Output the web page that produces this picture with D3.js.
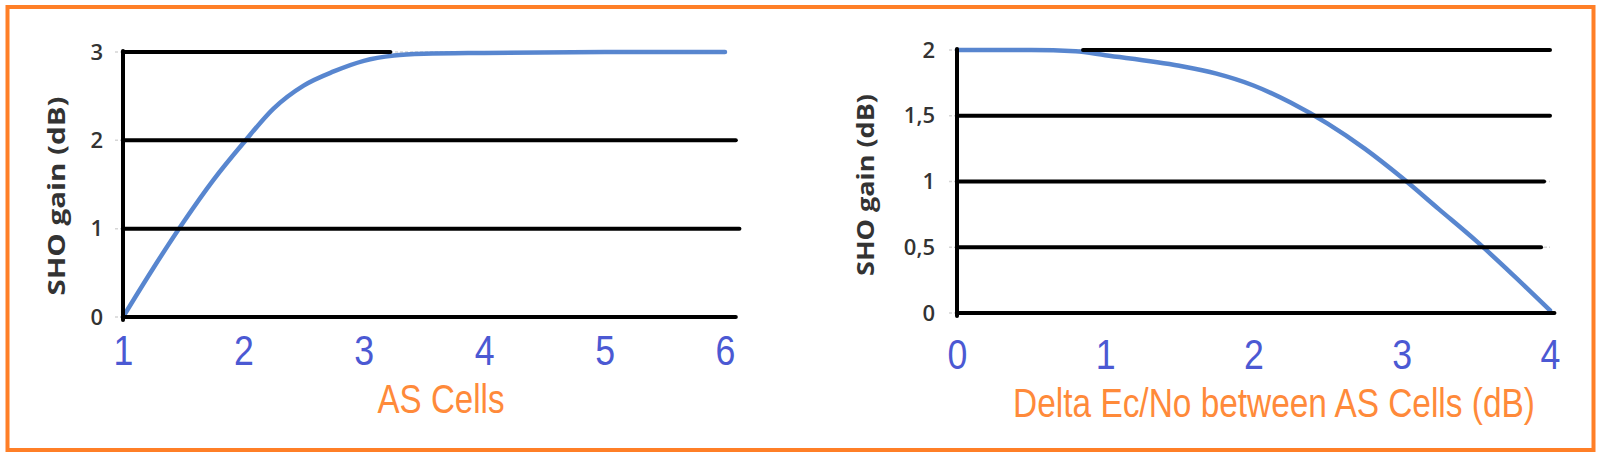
<!DOCTYPE html>
<html>
<head>
<meta charset="utf-8">
<script src="https://cdn.jsdelivr.net/npm/d3@7"></script>
<style>
  html, body { margin: 0; padding: 0; background: #fff; }
  svg { display: block; }
</style>
</head>
<body>
<svg id="chart" width="1600" height="455"></svg>
<script>
// left panel: SHO gain vs number of AS cells
const asCells = [1, 1.25, 1.5, 1.75, 2, 2.25, 2.5, 2.75, 3, 3.25, 3.5, 4, 5, 6];
const asGain = [0, 0.55, 1.07, 1.55, 1.97, 2.36, 2.62, 2.78, 2.9, 2.96, 2.98, 2.99, 3.0, 3.0];
const asTicksX = [1, 2, 3, 4, 5, 6];
const asTicksY = [0, 1, 2, 3];
// hand drawn guide lines (value, from, to) in data units
const asGuides = [[3, 1, 3.22], [2, 1, 6.09], [1, 1, 6.12], [0, 1, 6.09]];

// right panel: SHO gain vs delta Ec/No
const deltaEcNo = [0, 0.5, 0.8, 1, 1.5, 1.75, 2, 2.25, 2.5, 2.75, 3, 3.25, 3.5, 3.75, 4];
const deltaGain = [2.0, 2.0, 1.99, 1.96, 1.88, 1.82, 1.73, 1.6, 1.44, 1.25, 1.03, 0.79, 0.55, 0.29, 0.02];
const deltaTicksX = [0, 1, 2, 3, 4];
const deltaTicksY = [0, 0.5, 1, 1.5, 2];
const deltaGuides = [[2, 0.85, 4.0], [1.5, 0, 4.0], [1, 0, 3.96], [0.5, 0, 3.94], [0, 0, 4.03]];

const svg = d3.select("#chart");
const blue = "#4f7fcc";
const tickBlue = "#4b59d3";
const orange = "#ff8a3a";

// squeeze / stretch a text horizontally so it spans the wanted width
function fitWidth(sel, width) {
  const w = sel.node().getComputedTextLength();
  const tr = sel.attr("transform") || "";
  sel.attr("transform", `${tr} scale(${width / w},1)`);
}

svg.append("rect")
  .attr("x", 7.5).attr("y", 7)
  .attr("width", 1586).attr("height", 443)
  .attr("fill", "none")
  .attr("stroke", "#ff7f27")
  .attr("stroke-width", 4);

const panels = [
  {
    xs: asCells, ys: asGain, ticksX: asTicksX, ticksY: asTicksY, guides: asGuides,
    x: d3.scaleLinear([1, 6], [123, 725]),
    y: d3.scaleLinear([0, 3], [317, 52]),
    yLabelX: 103, titleX: 57, titleY: 196, titleLen: 199,
    xTitle: "AS Cells", xTitleX: 441, xTitleLen: 127, xTitleY: 413, xTickY: 365
  },
  {
    xs: deltaEcNo, ys: deltaGain, ticksX: deltaTicksX, ticksY: deltaTicksY, guides: deltaGuides,
    x: d3.scaleLinear([0, 4], [957, 1550]),
    y: d3.scaleLinear([0, 2], [313, 50]),
    yLabelX: 935, titleX: 866, titleY: 185, titleLen: 182,
    xTitle: "Delta Ec/No between AS Cells (dB)", xTitleX: 1274, xTitleLen: 522, xTitleY: 417, xTickY: 369
  }
];

panels.forEach((p) => {
  const g = svg.append("g");
  const [x0, x1] = p.x.range();

  // faint original gridlines under the drawn ones
  g.selectAll(".grid")
    .data(p.ticksY)
    .join("line")
    .attr("x1", x0 - 8).attr("x2", x1)
    .attr("y1", (d) => p.y(d)).attr("y2", (d) => p.y(d))
    .attr("stroke", "#bbb")
    .attr("stroke-width", 1.5)
    .attr("stroke-dasharray", "3 2")
    .attr("opacity", 0.6);

  // y tick labels
  g.selectAll(".ylab")
    .data(p.ticksY)
    .join("text")
    .attr("x", p.yLabelX)
    .attr("y", (d) => p.y(d))
    .attr("dy", "0.35em")
    .attr("text-anchor", "end")
    .attr("font-family", "'Open Sans', sans-serif")
    .attr("font-weight", 600)
    .attr("font-size", 22)
    .attr("fill", "#333")
    .text((d) => String(d).replace(".", ","));

  // y title
  const yTitle = g.append("text")
    .attr("transform", `translate(${p.titleX},${p.titleY}) rotate(-90)`)
    .attr("text-anchor", "middle")
    .attr("dy", "0.35em")
    .attr("font-family", "'Open Sans', sans-serif")
    .attr("font-weight", 700)
    .attr("font-size", 24)
    .attr("fill", "#333")
    .text("SHO gain (dB)");
  fitWidth(yTitle, p.titleLen);

  // curve
  const line = d3.line()
    .x((d, i) => p.x(p.xs[i]))
    .y((d) => p.y(d))
    .curve(d3.curveMonotoneX);
  g.append("path")
    .datum(p.ys)
    .attr("d", line)
    .attr("fill", "none")
    .attr("stroke", blue)
    .attr("stroke-width", 4.5)
    .attr("stroke-linecap", "round")
    .attr("opacity", 0.95);

  // black guide lines drawn over the chart
  g.selectAll(".guide")
    .data(p.guides)
    .join("line")
    .attr("x1", (d) => p.x(d[1])).attr("x2", (d) => p.x(d[2]))
    .attr("y1", (d) => p.y(d[0])).attr("y2", (d) => p.y(d[0]))
    .attr("stroke", "#000")
    .attr("stroke-width", 4)
    .attr("stroke-linecap", "round");

  // vertical axis
  const yDom = p.y.domain();
  g.append("line")
    .attr("x1", x0).attr("x2", x0)
    .attr("y1", p.y(yDom[1]) - 1).attr("y2", p.y(yDom[0]) + 3)
    .attr("stroke", "#000")
    .attr("stroke-width", 4)
    .attr("stroke-linecap", "round");

  // blue x tick labels
  const xAxis = g.append("g")
    .attr("transform", `translate(0,${p.xTickY})`)
    .call(d3.axisBottom(p.x).tickValues(p.ticksX).tickSize(0).tickPadding(0).tickFormat(d3.format("d")));
  xAxis.select(".domain").remove();
  xAxis.selectAll("text")
    .attr("dy", 0)
    .attr("y", 0)
    .attr("transform", "scale(0.85,1)")
    .attr("font-family", "'Liberation Sans', Arial, sans-serif")
    .attr("font-size", 42)
    .attr("fill", tickBlue);

  // x title
  const xTitle = g.append("text")
    .attr("transform", `translate(${p.xTitleX},${p.xTitleY})`)
    .attr("text-anchor", "middle")
    .attr("font-family", "'Liberation Sans', Arial, sans-serif")
    .attr("font-size", 40)
    .attr("fill", orange)
    .text(p.xTitle);
  fitWidth(xTitle, p.xTitleLen);
});
</script>
</body>
</html>
